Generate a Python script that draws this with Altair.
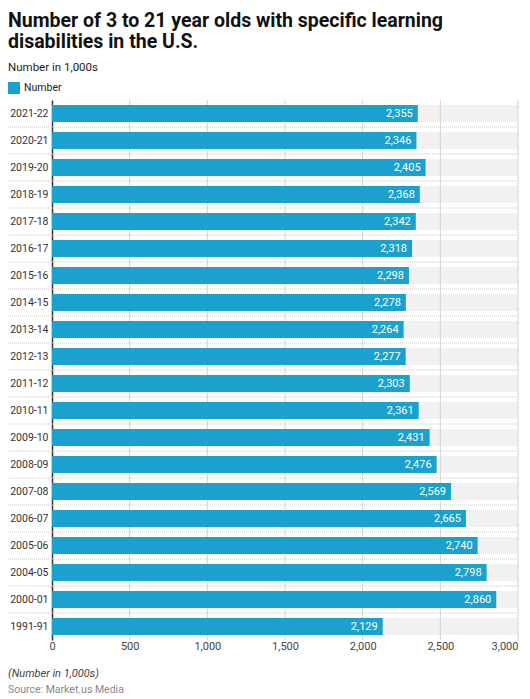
import altair as alt
import pandas as pd

# values (number of students, in 1,000s)
years = ['2021-22', '2020-21', '2019-20', '2018-19', '2017-18', '2016-17',
         '2015-16', '2014-15', '2013-14', '2012-13', '2011-12', '2010-11',
         '2009-10', '2008-09', '2007-08', '2006-07', '2005-06', '2004-05',
         '2000-01', '1991-91']
numbers = [2355, 2346, 2405, 2368, 2342, 2318, 2298, 2278, 2264, 2277,
           2303, 2361, 2431, 2476, 2569, 2665, 2740, 2798, 2860, 2129]
x_ticks = [0, 500, 1000, 1500, 2000, 2500, 3000]
series_name = 'Number'
note_text = '(Number in 1,000s)'
source_text = 'Source: Market.us Media'

BLUE = '#1aa1cd'
FONT = 'Roboto'
W, H = 466, 540

df = pd.DataFrame({'year': years, 'value': numbers})
df['series'] = series_name
df['full'] = x_ticks[-1]
grid_df = pd.DataFrame({'tick': x_ticks[1:]})

xscale = alt.Scale(domain=[x_ticks[0], x_ticks[-1]], nice=False)
yscale = alt.Scale(domain=years, paddingInner=0.37, paddingOuter=0.185)

y_enc = alt.Y('year:N', scale=yscale, sort=years, title=None,
              axis=alt.Axis(labelFont=FONT, labelFontSize=10.5, labelColor='#333',
                            labelPadding=4, ticks=False, grid=False,
                            domainColor='#333', domainWidth=1.5))

# gray track behind each bar
bg = alt.Chart(df).mark_bar(color='#f1f1f1').encode(
    x=alt.X('full:Q', scale=xscale, title=None,
            axis=alt.Axis(values=x_ticks, format=',d', grid=False, ticks=False,
                          domain=False, labelFont=FONT, labelFontSize=11,
                          labelColor='#444', labelPadding=0,
                          labelAlign=alt.expr("datum.value == 3000 ? 'right' : 'center'"))),
    y=y_enc
)

gridlines = alt.Chart(grid_df).mark_rule(color='#d2d2d2', strokeWidth=1).encode(
    x=alt.X('tick:Q', scale=xscale)
)

separators = alt.Chart(df).transform_filter(
    alt.datum.year != years[-1]
).mark_rule(color='#c8c8c8', strokeDash=[1, 1], strokeWidth=1, yOffset=13.5).encode(
    y=alt.Y('year:N', scale=yscale, sort=years),
    x=alt.value(-44),
    x2=alt.value(W)
)

bars = alt.Chart(df).mark_bar().encode(
    x=alt.X('value:Q', scale=xscale),
    y=alt.Y('year:N', scale=yscale, sort=years),
    color=alt.Color('series:N', scale=alt.Scale(domain=[series_name], range=[BLUE]),
                    legend=alt.Legend(orient='none', legendX=-44, legendY=-18, title=None,
                                      symbolType='square', symbolSize=144,
                                      symbolStrokeWidth=0, labelFont=FONT,
                                      labelFontSize=10.5, labelColor='#222'))
)

labels = alt.Chart(df).mark_text(align='right', baseline='middle', dx=-5,
                                 color='white', font=FONT, fontSize=11).encode(
    x=alt.X('value:Q', scale=xscale),
    y=alt.Y('year:N', scale=yscale, sort=years),
    text=alt.Text('value:Q', format=',')
)

note = alt.Chart(pd.DataFrame({'txt': [note_text]})).mark_text(
    align='left', baseline='middle', font=FONT, fontSize=11,
    fontStyle='italic', color='#444'
).encode(x=alt.value(-44), y=alt.value(574), text='txt:N')

source = alt.Chart(pd.DataFrame({'txt': [source_text]})).mark_text(
    align='left', baseline='middle', font=FONT, fontSize=10.5, color='#888'
).encode(x=alt.value(-44), y=alt.value(590), text='txt:N')

chart = alt.layer(bg, gridlines, separators, bars, labels, note, source).properties(
    width=W, height=H,
    autosize=alt.AutoSizeParams(type='none'),
    padding={'left': 44, 'top': 92, 'right': 4, 'bottom': 60},
    title=alt.TitleParams(
        text=['Number of 3 to 21 year olds with specific learning',
              'disabilities in the U.S.'],
        subtitle='Number in 1,000s',
        anchor='start', frame='group', dx=-44, offset=8,
        font=FONT, fontSize=19.5, fontWeight='bold', color='#111', lineHeight=21,
        subtitleFont=FONT, subtitleFontSize=11.5, subtitleColor='#222',
        subtitlePadding=9
    )
).configure_view(stroke=None)

chart.save('out.html', embed_options={'renderer': 'svg', 'actions': False})
